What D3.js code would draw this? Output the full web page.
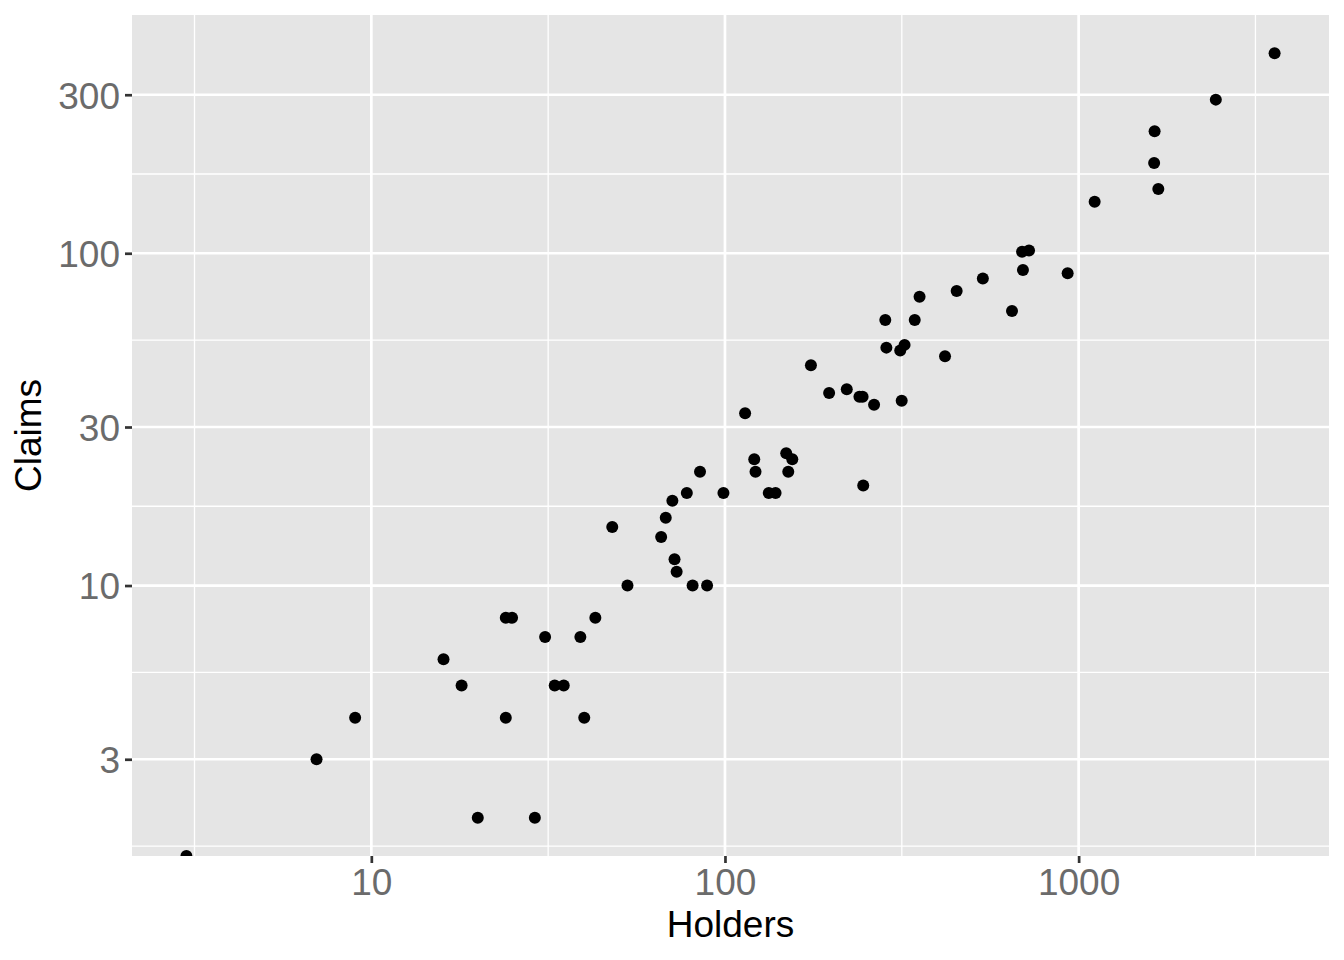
<!DOCTYPE html>
<html>
<head>
<meta charset="utf-8">
<script src="https://cdn.jsdelivr.net/npm/d3@7"></script>
<style>
  body { margin: 0; background: #fff; }
  svg { display: block; font-family: "Liberation Sans", Arial, Helvetica, sans-serif; }
</style>
</head>
<body>
<svg id="chart" width="1344" height="960"></svg>
<script>
// Holders vs Claims, one entry per district / group / age cell
const holders = [
  197, 264, 246, 1680, 284, 536, 696, 3582, 133, 286, 355, 1640, 24, 71, 99, 452,
  85, 139, 151, 931, 149, 313, 419, 2443, 66, 175, 221, 1110, 9, 48, 72, 322,
  35, 73, 89, 648, 53, 155, 240, 1635, 24, 78, 121, 692, 7, 29, 43, 245,
  20, 33, 40, 316, 31, 81, 122, 724, 18, 39, 68, 344, 3, 16, 25, 114
];
const claims = [
  38, 35, 20, 156, 63, 84, 89, 400, 19, 52, 74, 233, 4, 18, 19, 77,
  22, 19, 22, 87, 25, 51, 49, 290, 14, 46, 39, 143, 4, 15, 12, 53,
  5, 11, 10, 67, 10, 24, 37, 187, 8, 19, 24, 101, 3, 2, 8, 37,
  2, 5, 4, 36, 7, 10, 22, 102, 5, 7, 16, 63, 0, 6, 8, 33
];
const xTicks = [10, 100, 1000];
const yTicks = [3, 10, 30, 100, 300];

const panel = { left: 132, right: 1329, top: 15, bottom: 856 };
const svg = d3.select("#chart");

// log extent with ggplot's 5% expansion (zero claims sit on the panel edge)
function expandedLog(vals) {
  const lg = vals.filter(v => v > 0).map(Math.log10);
  const lo = d3.min(lg), hi = d3.max(lg), pad = (hi - lo) * 0.05;
  return [Math.pow(10, lo - pad), Math.pow(10, hi + pad)];
}

const x = d3.scaleLog().domain(expandedLog(holders)).range([panel.left, panel.right]);
const y = d3.scaleLog().domain(expandedLog(claims)).range([panel.bottom, panel.top]);

// minor breaks: log midpoints between majors, extended one step beyond
function minorBreaks(ticks, scale) {
  const lg = ticks.map(Math.log10);
  const step = lg[1] - lg[0];
  const b = [lg[0] - step, ...lg, lg[lg.length - 1] + step];
  const dom = scale.domain().map(Math.log10);
  return d3.pairs(b).map(([a, c]) => (a + c) / 2)
    .filter(v => v > dom[0] && v < dom[1])
    .map(v => Math.pow(10, v));
}

svg.append("rect")
  .attr("x", panel.left).attr("y", panel.top)
  .attr("width", panel.right - panel.left).attr("height", panel.bottom - panel.top)
  .attr("fill", "#E5E5E5");

const grid = svg.append("g").attr("stroke", "#fff");
grid.selectAll(".xminor").data(minorBreaks(xTicks, x)).join("line")
  .attr("x1", d => x(d)).attr("x2", d => x(d))
  .attr("y1", panel.top).attr("y2", panel.bottom).attr("stroke-width", 1.3);
grid.selectAll(".yminor").data(minorBreaks(yTicks, y)).join("line")
  .attr("y1", d => y(d)).attr("y2", d => y(d))
  .attr("x1", panel.left).attr("x2", panel.right).attr("stroke-width", 1.3);
grid.selectAll(".xmajor").data(xTicks).join("line")
  .attr("x1", d => x(d)).attr("x2", d => x(d))
  .attr("y1", panel.top).attr("y2", panel.bottom).attr("stroke-width", 2.7);
grid.selectAll(".ymajor").data(yTicks).join("line")
  .attr("y1", d => y(d)).attr("y2", d => y(d))
  .attr("x1", panel.left).attr("x2", panel.right).attr("stroke-width", 2.7);

svg.append("clipPath").attr("id", "panelclip").append("rect")
  .attr("x", panel.left).attr("y", panel.top)
  .attr("width", panel.right - panel.left).attr("height", panel.bottom - panel.top);

svg.append("g").attr("clip-path", "url(#panelclip)")
  .selectAll("circle").data(d3.range(holders.length)).join("circle")
  .attr("cx", i => x(holders[i]))
  .attr("cy", i => claims[i] > 0 ? y(claims[i]) : panel.bottom)
  .attr("r", 6)
  .attr("fill", "#000");

// axes
const xAxis = svg.append("g")
  .attr("transform", `translate(0,${panel.bottom})`)
  .call(d3.axisBottom(x).tickValues(xTicks).tickFormat(d3.format("d")).tickSizeOuter(0).tickSize(7).tickPadding(6));
const yAxis = svg.append("g")
  .attr("transform", `translate(${panel.left},0)`)
  .call(d3.axisLeft(y).tickValues(yTicks).tickFormat(d3.format("d")).tickSizeOuter(0).tickSize(7).tickPadding(5));

[xAxis, yAxis].forEach(g => {
  g.select(".domain").remove();
  g.selectAll(".tick line").attr("stroke", "#333").attr("stroke-width", 2.7);
  g.selectAll(".tick text").attr("fill", "#6B6B6B").attr("font-size", 37)
    .attr("font-family", "'Liberation Sans', Arial, sans-serif");
});
yAxis.selectAll(".tick text").attr("dy", "0.36em");

svg.append("text")
  .attr("x", (panel.left + panel.right) / 2).attr("y", 937)
  .attr("text-anchor", "middle").attr("font-size", 37).attr("fill", "#000")
  .text("Holders");

svg.append("text")
  .attr("transform", `translate(41,${(panel.top + panel.bottom) / 2}) rotate(-90)`)
  .attr("text-anchor", "middle").attr("font-size", 37).attr("fill", "#000")
  .text("Claims");
</script>
</body>
</html>
